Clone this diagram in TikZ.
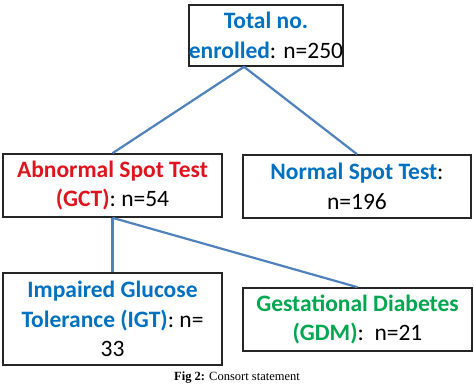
\documentclass[tikz,border=0pt]{standalone}
\usepackage{fontspec}
\setmainfont{Carlito}
\newfontfamily\captionfont{Liberation Serif}
\usepackage{tikz}
\definecolor{office_blue}{RGB}{0, 112, 192}
\definecolor{office_red}{RGB}{222, 20, 30}
\definecolor{office_green}{RGB}{0, 166, 80}
\definecolor{link_blue}{RGB}{79, 129, 189}
\tikzstyle{box} = [rectangle, draw=black!85, line width=1.6pt, inner sep=0pt, align=center, font=\fontsize{23.5}{29.5}\selectfont, text=black]
\tikzstyle{link} = [line width=2.2pt, draw=link_blue]

\begin{document}
\begin{tikzpicture}[x=1pt, y=-1pt]
        \useasboundingbox (0,0) rectangle (474,386);
        \node (total) [box, minimum width=146pt, minimum height=61pt] at (266,35.5) {\textbf{\color{office_blue}Total no.} \\ \textbf{\color{office_blue}enrolled}: n=250};

        \node (abnormal) [box, minimum width=219pt, minimum height=63pt] at (112.5,185.5) {\textbf{\color{office_red}Abnormal Spot Test} \\ \textbf{\color{office_red}(GCT)}: n=54};
        \node (normal) [box, minimum width=228pt, minimum height=63pt] at (357,186.5) {\textbf{\color{office_blue}Normal Spot Test}: \\ n=196};

        \node (igt) [box, minimum width=219pt, minimum height=92pt] at (112.5,319) {\textbf{\color{office_blue}Impaired Glucose} \\ \textbf{\color{office_blue}Tolerance (IGT)}: n= \\ 33};
        \node (gdm) [box, minimum width=229pt, minimum height=63pt] at (357.5,319.5) {\textbf{\color{office_green}Gestational Diabetes} \\ \textbf{\color{office_green}(GDM)}:\ \ n=21};

        \node (caption) at (237,378) {\captionfont\fontsize{12.5}{14}\selectfont\textbf{Fig 2:} Consort statement};

        \draw [link] ([xshift=-22pt]total.south) -- (abnormal.north);
        \draw [link] ([xshift=-22pt]total.south) -- (normal.north);
        \draw [link] (abnormal.south) -- (igt.north);
        \draw [link] (abnormal.south) -- (gdm.north);
    \end{tikzpicture}
\end{document}
